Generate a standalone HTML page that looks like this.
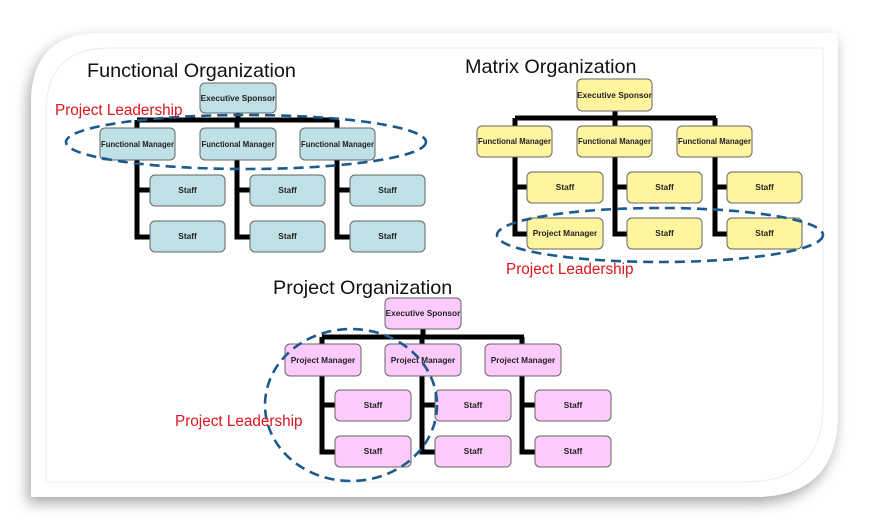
<!DOCTYPE html>
<html><head><meta charset="utf-8"><style>
html,body{margin:0;padding:0;background:#fff;}
svg{display:block;}
text{font-family:"Liberation Sans",Arial,sans-serif;}
.b{font-weight:bold;font-size:8.3px;fill:#222;text-anchor:middle;}
.t{font-size:19.8px;fill:#111;}
.r{font-size:15.3px;fill:#e0141e;}
.ln{stroke:#000;stroke-width:5;fill:none;}
.el{fill:none;stroke:#1b5a8c;stroke-width:2.6;stroke-dasharray:10 6;}
</style></head><body>
<svg width="871" height="530" viewBox="0 0 871 530" xmlns="http://www.w3.org/2000/svg">
<defs>
<filter id="sh" x="-10%" y="-10%" width="120%" height="125%">
<feGaussianBlur in="SourceAlpha" stdDeviation="7"/>
<feOffset dx="-3" dy="6"/>
<feComponentTransfer><feFuncA type="linear" slope="0.35"/></feComponentTransfer>
<feMerge><feMergeNode/><feMergeNode in="SourceGraphic"/></feMerge>
</filter>
</defs>
<rect width="871" height="530" fill="#fff"/>
<path d="M101,33 H838 V413 Q838,497 754,497 H31 V103 Q31,33 101,33 Z" fill="#fff" filter="url(#sh)"/>
<path d="M110,48 H823 V405 Q823,482 746,482 H46 V112 Q46,48 110,48 Z" fill="none" stroke="#ececec" stroke-width="1"/>

<!-- Functional -->
<text class="t" x="87" y="77">Functional Organization</text>
<g class="ln">
<path d="M238,113 V120 M137,120 H338 M137,120 V128 M237,120 V128 M337,120 V128"/>
<path d="M137,160 V237 H150 M137,190 H150"/>
<path d="M237,160 V237 H250 M237,190 H250"/>
<path d="M337,160 V237 H350 M337,190 H350"/>
</g>
<g fill="#bfe0e4" stroke="#666" stroke-width="1">
<rect x="200" y="83" width="76" height="30" rx="5"/>
<rect x="100" y="128" width="75" height="32" rx="5"/>
<rect x="200" y="128" width="76" height="32" rx="5"/>
<rect x="300" y="128" width="75" height="32" rx="5"/>
<rect x="150" y="175" width="75" height="31" rx="5"/>
<rect x="250" y="175" width="75" height="31" rx="5"/>
<rect x="350" y="175" width="75" height="31" rx="5"/>
<rect x="150" y="221" width="75" height="31" rx="5"/>
<rect x="250" y="221" width="75" height="31" rx="5"/>
<rect x="350" y="221" width="75" height="31" rx="5"/>
</g>
<text class="b" x="238" y="101">Executive Sponsor</text>
<text class="b" x="137.5" y="147" textLength="73" lengthAdjust="spacingAndGlyphs">Functional Manager</text>
<text class="b" x="238" y="147" textLength="73" lengthAdjust="spacingAndGlyphs">Functional Manager</text>
<text class="b" x="337.5" y="147" textLength="73" lengthAdjust="spacingAndGlyphs">Functional Manager</text>
<text class="b" x="187.5" y="193">Staff</text><text class="b" x="287.5" y="193">Staff</text><text class="b" x="387.5" y="193">Staff</text>
<text class="b" x="187.5" y="239">Staff</text><text class="b" x="287.5" y="239">Staff</text><text class="b" x="387.5" y="239">Staff</text>
<ellipse class="el" cx="246" cy="142" rx="180" ry="27"/>
<text class="r" x="55" y="115">Project Leadership</text>

<!-- Matrix -->
<text class="t" x="465" y="73">Matrix Organization</text>
<g class="ln">
<path d="M615,111 V118 M515,118 H716 M515,118 V126 M615,118 V126 M715,118 V126"/>
<path d="M515,157 V234 H527 M515,187 H527"/>
<path d="M615,157 V234 H627 M615,187 H627"/>
<path d="M715,157 V234 H727 M715,187 H727"/>
</g>
<g fill="#fff59e" stroke="#666" stroke-width="1">
<rect x="577" y="79" width="75" height="32" rx="5"/>
<rect x="477" y="126" width="75" height="31" rx="5"/>
<rect x="577" y="126" width="75" height="31" rx="5"/>
<rect x="677" y="126" width="75" height="31" rx="5"/>
<rect x="527" y="172" width="76" height="31" rx="5"/>
<rect x="627" y="172" width="75" height="31" rx="5"/>
<rect x="727" y="172" width="75" height="31" rx="5"/>
<rect x="527" y="218" width="76" height="31" rx="5"/>
<rect x="627" y="218" width="75" height="31" rx="5"/>
<rect x="727" y="218" width="75" height="31" rx="5"/>
</g>
<text class="b" x="614.5" y="98">Executive Sponsor</text>
<text class="b" x="514.5" y="144" textLength="73" lengthAdjust="spacingAndGlyphs">Functional Manager</text>
<text class="b" x="614.5" y="144" textLength="73" lengthAdjust="spacingAndGlyphs">Functional Manager</text>
<text class="b" x="714.5" y="144" textLength="73" lengthAdjust="spacingAndGlyphs">Functional Manager</text>
<text class="b" x="565" y="190">Staff</text><text class="b" x="664.5" y="190">Staff</text><text class="b" x="764.5" y="190">Staff</text>
<text class="b" x="565" y="236">Project Manager</text><text class="b" x="664.5" y="236">Staff</text><text class="b" x="764.5" y="236">Staff</text>
<ellipse class="el" cx="660" cy="235" rx="163" ry="27"/>
<text class="r" x="506" y="274">Project Leadership</text>

<!-- Project -->
<text class="t" x="273" y="294">Project Organization</text>
<g class="ln">
<path d="M423,329 V337 M322,337 H524 M322,337 V344 M422,337 V344 M522,337 V344"/>
<path d="M322,376 V452 H335 M322,405 H335"/>
<path d="M422,376 V452 H435 M422,405 H435"/>
<path d="M522,376 V452 H535 M522,405 H535"/>
</g>
<g fill="#fccafc" stroke="#666" stroke-width="1">
<rect x="385" y="298" width="76" height="31" rx="5"/>
<rect x="285" y="344" width="76" height="32" rx="5"/>
<rect x="385" y="344" width="76" height="32" rx="5"/>
<rect x="485" y="344" width="76" height="32" rx="5"/>
<rect x="335" y="390" width="76" height="31" rx="5"/>
<rect x="435" y="390" width="76" height="31" rx="5"/>
<rect x="535" y="390" width="76" height="31" rx="5"/>
<rect x="335" y="436" width="76" height="31" rx="5"/>
<rect x="435" y="436" width="76" height="31" rx="5"/>
<rect x="535" y="436" width="76" height="31" rx="5"/>
</g>
<text class="b" x="423" y="316">Executive Sponsor</text>
<text class="b" x="323" y="363">Project Manager</text>
<text class="b" x="423" y="363">Project Manager</text>
<text class="b" x="523" y="363">Project Manager</text>
<text class="b" x="373" y="408">Staff</text><text class="b" x="473" y="408">Staff</text><text class="b" x="573" y="408">Staff</text>
<text class="b" x="373" y="454">Staff</text><text class="b" x="473" y="454">Staff</text><text class="b" x="573" y="454">Staff</text>
<ellipse class="el" cx="351" cy="405" rx="86" ry="76"/>
<text class="r" x="175" y="426">Project Leadership</text>
</svg>
</body></html>
